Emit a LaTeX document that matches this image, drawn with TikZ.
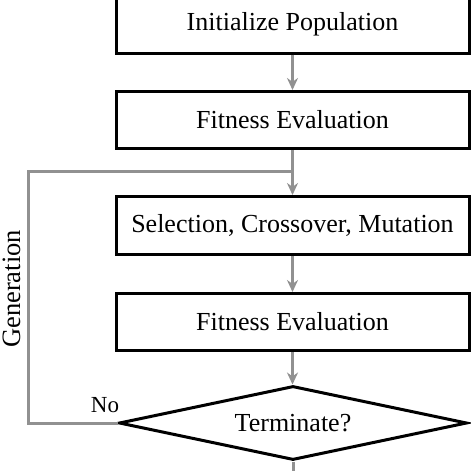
\documentclass[tikz,border=0pt]{standalone}
\usepackage{fontspec}
\setmainfont{Liberation Serif}
\usetikzlibrary{shapes.geometric,arrows.meta}
\definecolor{flowgray}{RGB}{145,145,145}
\tikzset{
  procbox/.style={draw=black, line width=3pt, minimum width=353pt, minimum height=57pt, inner sep=0pt, font=\fontsize{26}{30}\selectfont},
  decbox/.style={draw=black, line width=3pt, diamond, aspect=4.7, minimum width=348pt, minimum height=74pt, inner sep=0pt, font=\fontsize{26}{30}\selectfont},
  flow/.style={draw=flowgray, line width=3pt},
  flowarrow/.style={flow, -{Stealth[length=12pt,width=11pt]}},
  lbl/.style={font=\fontsize{23}{27}\selectfont, inner sep=0pt}
}
\begin{document}
\begin{tikzpicture}[x=1pt,y=-1pt]
\clip (0,0) rectangle (471,471);
\fill[white] (0,0) rectangle (471,471);
\node[procbox, minimum height=58pt] (init) at (292.5,24) {Initialize Population};
\node[procbox] (fit1) at (292.5,120) {Fitness Evaluation};
\node[procbox, minimum height=58pt] (sel) at (292.5,225.5) {Selection, Crossover, Mutation};
\node[procbox] (fit2) at (292.5,322) {Fitness Evaluation};
\node[decbox] (term) at (293,423) {Terminate?};
\coordinate (bl) at (28,423);
\coordinate (tl) at (28,171);
\coordinate (join) at (292.5,171);
\coordinate (out) at (293,480);
\draw[flowarrow] (init.south) -- (fit1.north);
\draw[flowarrow] (fit1.south) -- (sel.north);
\draw[flowarrow] (sel.south) -- (fit2.north);
\draw[flowarrow] (fit2.south) -- (fit2.south |- term.north);
\draw[flow] (term.west) -- (bl) -- (tl) -- (join);
\draw[flow] (term.south) -- (out);
\node[lbl, anchor=base] (no) at (105,412) {No};
\node[font=\fontsize{26.5}{30}\selectfont, inner sep=0pt, rotate=90, anchor=base] (gen) at (20,289) {Generation};
\end{tikzpicture}
\end{document}
